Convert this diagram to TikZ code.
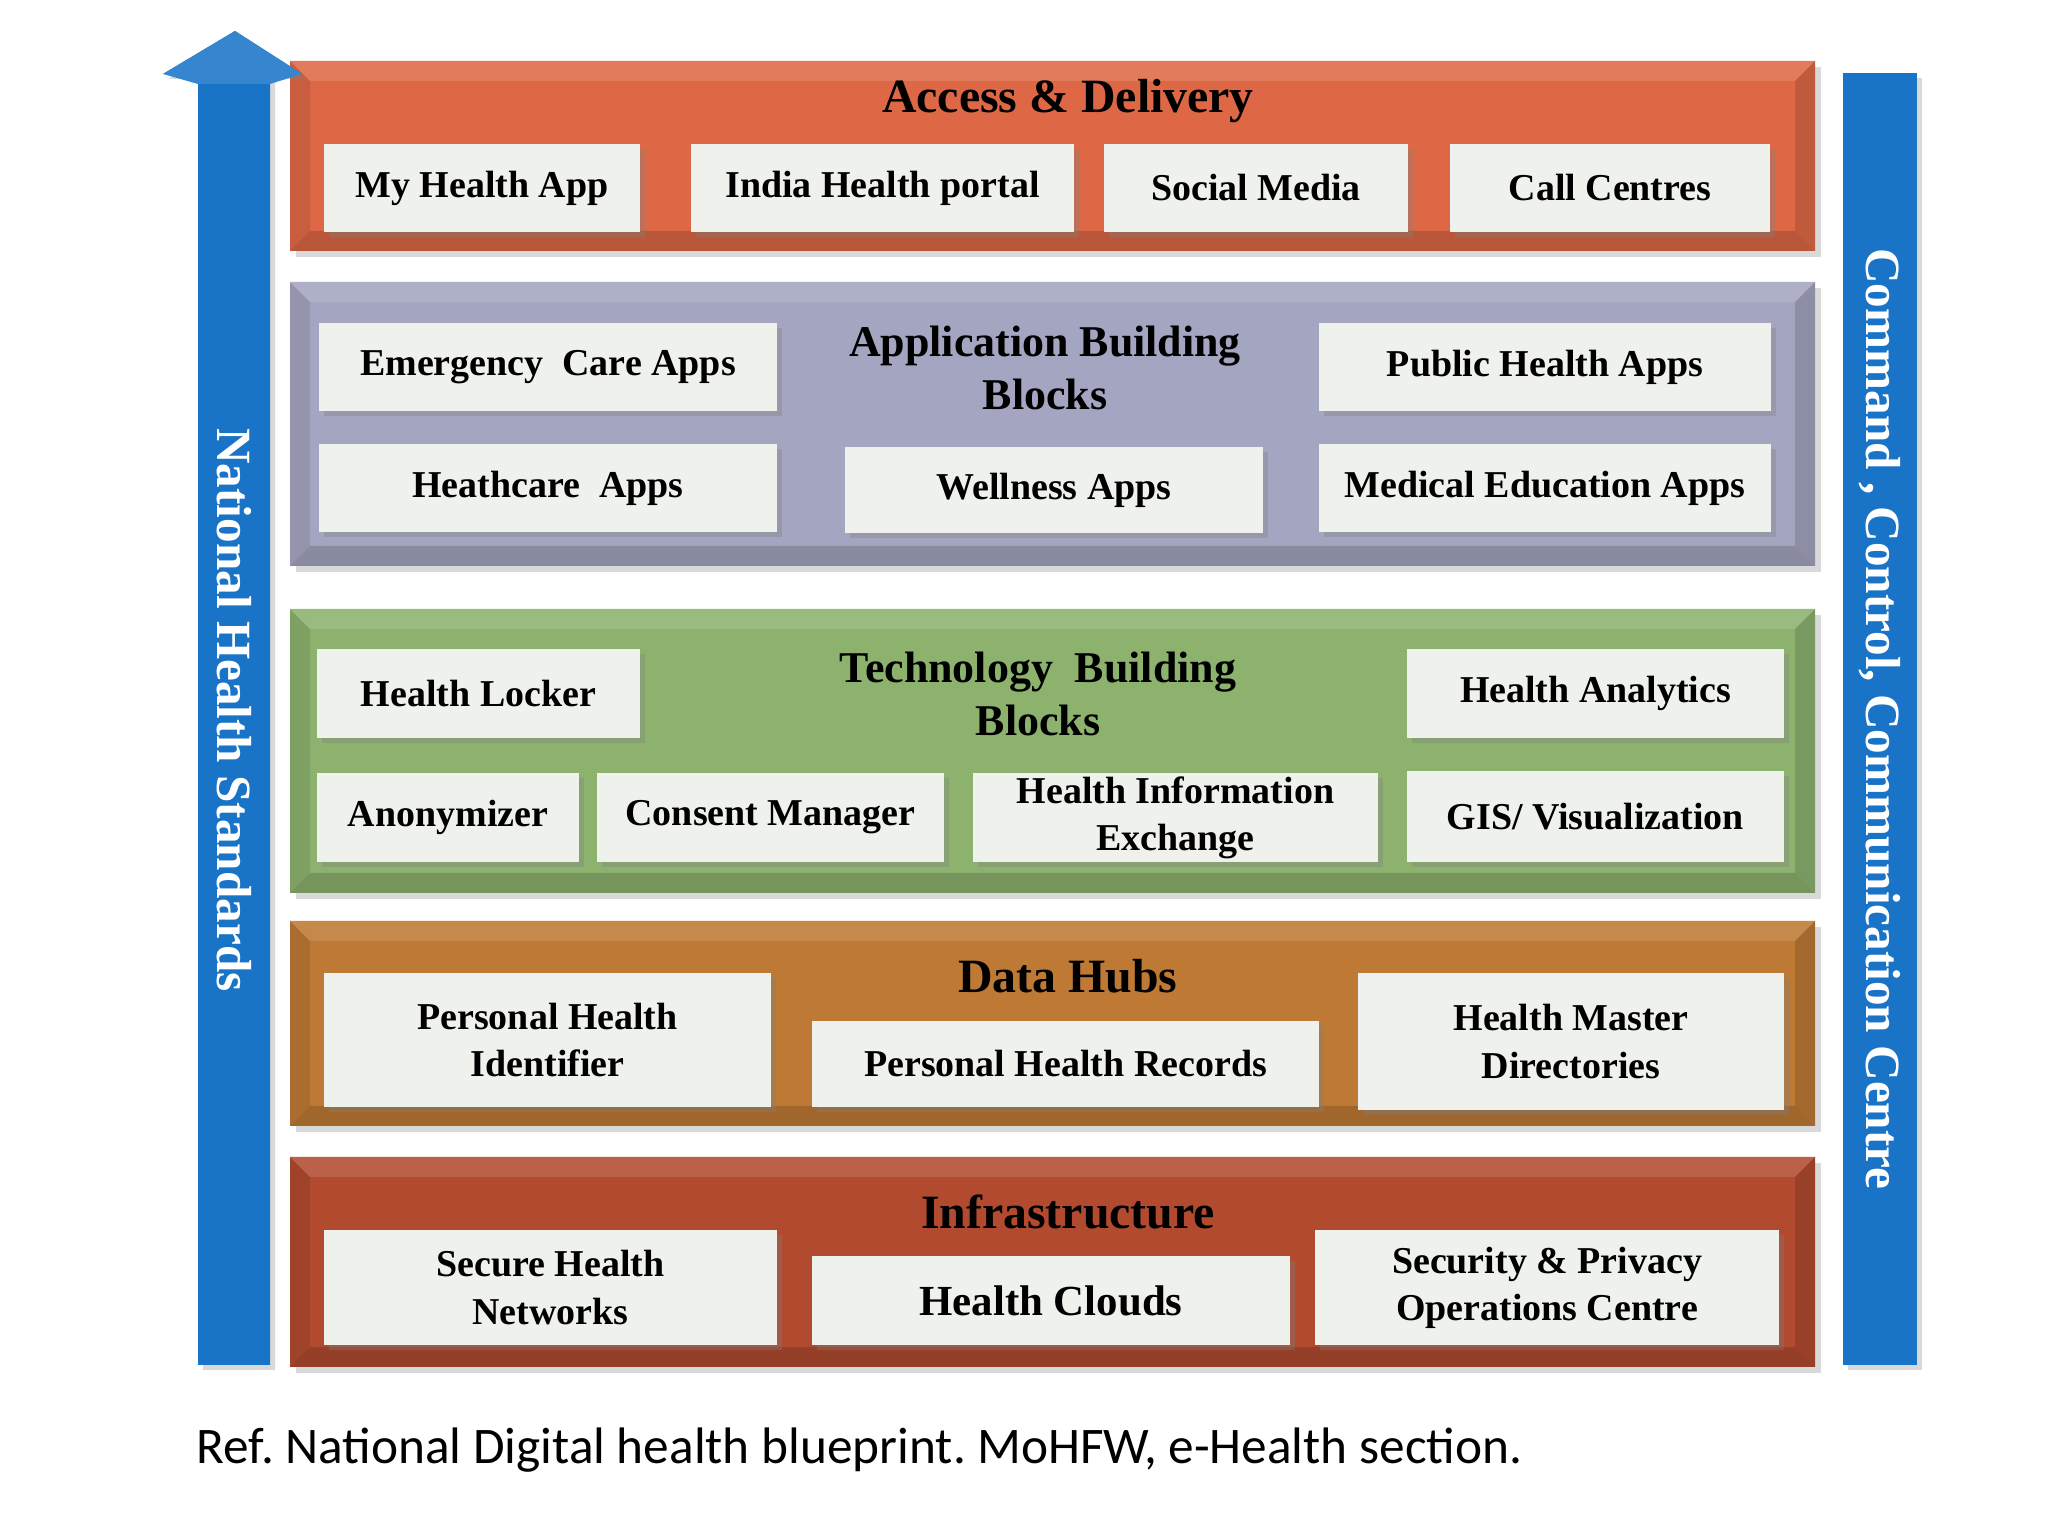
\documentclass[tikz,border=0pt]{standalone}
\usepackage{fontspec}
\setmainfont{Liberation Serif}
\newfontfamily\capfont{Carlito}
\usetikzlibrary{shadows}
\definecolor{accessred}{RGB}{222,104,70}
\definecolor{appgray}{RGB}{164,165,192}
\definecolor{techgreen}{RGB}{140,178,110}
\definecolor{hubbrown}{RGB}{190,121,52}
\definecolor{infrared}{RGB}{178,74,48}
\definecolor{boxfill}{RGB}{238,241,236}
\definecolor{barblue}{RGB}{25,116,200}
\frenchspacing
\begin{document}
\begin{tikzpicture}[
        layer/.style={fill=#1, minimum width=15.25cm, inner sep=0pt, drop shadow={shadow xshift=0.6mm, shadow yshift=-0.6mm, opacity=0.3},
            path picture={
                \fill[#1!90!black] (path picture bounding box.south west) -- (path picture bounding box.north west) -- ([shift={(0.2,-0.2)}]path picture bounding box.north west) -- ([shift={(0.2,0.2)}]path picture bounding box.south west) -- cycle;
                \fill[#1!86!black] (path picture bounding box.south east) -- (path picture bounding box.north east) -- ([shift={(-0.2,-0.2)}]path picture bounding box.north east) -- ([shift={(-0.2,0.2)}]path picture bounding box.south east) -- cycle;
                \fill[#1!88!white] (path picture bounding box.north west) -- (path picture bounding box.north east) -- ([shift={(-0.2,-0.2)}]path picture bounding box.north east) -- ([shift={(0.2,-0.2)}]path picture bounding box.north west) -- cycle;
                \fill[#1!84!black] (path picture bounding box.south west) -- (path picture bounding box.south east) -- ([shift={(-0.2,0.2)}]path picture bounding box.south east) -- ([shift={(0.2,0.2)}]path picture bounding box.south west) -- cycle;
            }},
        block/.style={fill=boxfill, inner sep=0pt, align=center, font=\fontsize{10.8}{13.4}\selectfont\bfseries, drop shadow={shadow xshift=0.5mm, shadow yshift=-0.5mm, opacity=0.35}},
        title/.style={align=center, font=\fontsize{13.6}{16}\selectfont\bfseries},
        subtitle/.style={align=center, font=\fontsize{12.5}{15.2}\selectfont\bfseries},
        bartext/.style={rotate=-90, text=white, inner sep=0pt, font=\fontsize{14}{16}\selectfont\bfseries}
    ]
        \useasboundingbox (0,0) rectangle (20.48,15.36);

        \node (access) at (10.525,13.80) [layer=accessred, minimum height=1.90cm] {};
        \node (apps) at (10.525,11.12) [layer=appgray, minimum height=2.84cm] {};
        \node (tech) at (10.525,7.85) [layer=techgreen, minimum height=2.84cm] {};
        \node (hubs) at (10.525,5.125) [layer=hubbrown, minimum height=2.05cm] {};
        \node (infra) at (10.525,2.74) [layer=infrared, minimum height=2.10cm] {};

        \node (accesstitle) at (10.68,14.35) [title] {Access \& Delivery};
        \node (myapp) at (4.82,13.48) [block, minimum width=3.16cm, minimum height=0.88cm] {My Health App};
        \node (portal) at (8.825,13.48) [block, minimum width=3.83cm, minimum height=0.88cm] {India Health portal};
        \node (social) at (12.56,13.48) [block, minimum width=3.04cm, minimum height=0.88cm] {Social Media};
        \node (calls) at (16.10,13.48) [block, minimum width=3.20cm, minimum height=0.88cm] {Call Centres};

        \node (appstitle) at (10.45,11.68) [subtitle] {Application Building\\Blocks};
        \node (emergency) at (5.48,11.69) [block, minimum width=4.58cm, minimum height=0.88cm] {Emergency~~Care Apps};
        \node (public) at (15.45,11.69) [block, minimum width=4.52cm, minimum height=0.88cm] {Public Health Apps};
        \node (healthcare) at (5.48,10.48) [block, minimum width=4.58cm, minimum height=0.88cm] {Heathcare~~Apps};
        \node (wellness) at (10.54,10.46) [block, minimum width=4.18cm, minimum height=0.86cm] {Wellness Apps};
        \node (medical) at (15.45,10.48) [block, minimum width=4.52cm, minimum height=0.88cm] {Medical Education Apps};

        \node (techtitle) at (10.38,8.42) [subtitle] {Technology~~Building\\Blocks};
        \node (locker) at (4.785,8.425) [block, minimum width=3.23cm, minimum height=0.89cm] {Health Locker};
        \node (analytics) at (15.955,8.425) [block, minimum width=3.77cm, minimum height=0.89cm] {Health Analytics};
        \node (anonymizer) at (4.48,7.185) [block, minimum width=2.62cm, minimum height=0.89cm] {Anonymizer};
        \node (consent) at (7.705,7.185) [block, minimum width=3.47cm, minimum height=0.89cm] {Consent Manager};
        \node (exchange) at (11.755,7.185) [block, minimum width=4.05cm, minimum height=0.89cm] {Health Information\\Exchange};
        \node (gis) at (15.955,7.195) [block, minimum width=3.77cm, minimum height=0.91cm] {GIS/ Visualization};

        \node (hubstitle) at (10.68,5.60) [title] {Data Hubs};
        \node (identifier) at (5.475,4.96) [block, minimum width=4.47cm, minimum height=1.34cm] {Personal Health\\Identifier};
        \node (records) at (10.655,4.72) [block, minimum width=5.07cm, minimum height=0.86cm] {Personal Health Records};
        \node (directories) at (15.71,4.945) [block, minimum width=4.26cm, minimum height=1.37cm] {Health Master\\Directories};

        \node (infratitle) at (10.68,3.24) [title] {Infrastructure};
        \node (networks) at (5.505,2.485) [block, minimum width=4.53cm, minimum height=1.15cm] {Secure Health\\Networks};
        \node (clouds) at (10.51,2.355) [block, minimum width=4.78cm, minimum height=0.89cm, font=\fontsize{12.2}{14}\selectfont\bfseries] {Health Clouds};
        \node (operations) at (15.47,2.485) [block, minimum width=4.64cm, minimum height=1.15cm] {Security \& Privacy\\Operations Centre};

        \fill[barblue, drop shadow={shadow xshift=0.5mm, shadow yshift=-0.5mm, opacity=0.3}] (1.98,1.71) -- (1.98,14.62) -- (1.63,14.62) -- (2.35,15.05) -- (3.02,14.62) -- (2.70,14.62) -- (2.70,1.71) -- cycle;
        \fill[barblue!88!white] (1.63,14.62) -- (2.35,15.05) -- (3.02,14.62) -- (2.70,14.52) -- (1.98,14.52) -- cycle;
        \node (standards) at (2.34,8.26) [bartext] {National Health Standards};

        \node (command) at (18.80,8.17) [bartext, fill=barblue, minimum width=12.92cm, minimum height=0.74cm, drop shadow={shadow xshift=0.5mm, shadow yshift=-0.5mm, opacity=0.3}] {Command , Control, Communication Centre};

        \node (reference) at (1.96,0.86) [anchor=west, inner sep=0pt, font=\capfont\fontsize{14.6}{17}\selectfont] {Ref. National Digital health blueprint. MoHFW, e-Health section.};
    \end{tikzpicture}
\end{document}
